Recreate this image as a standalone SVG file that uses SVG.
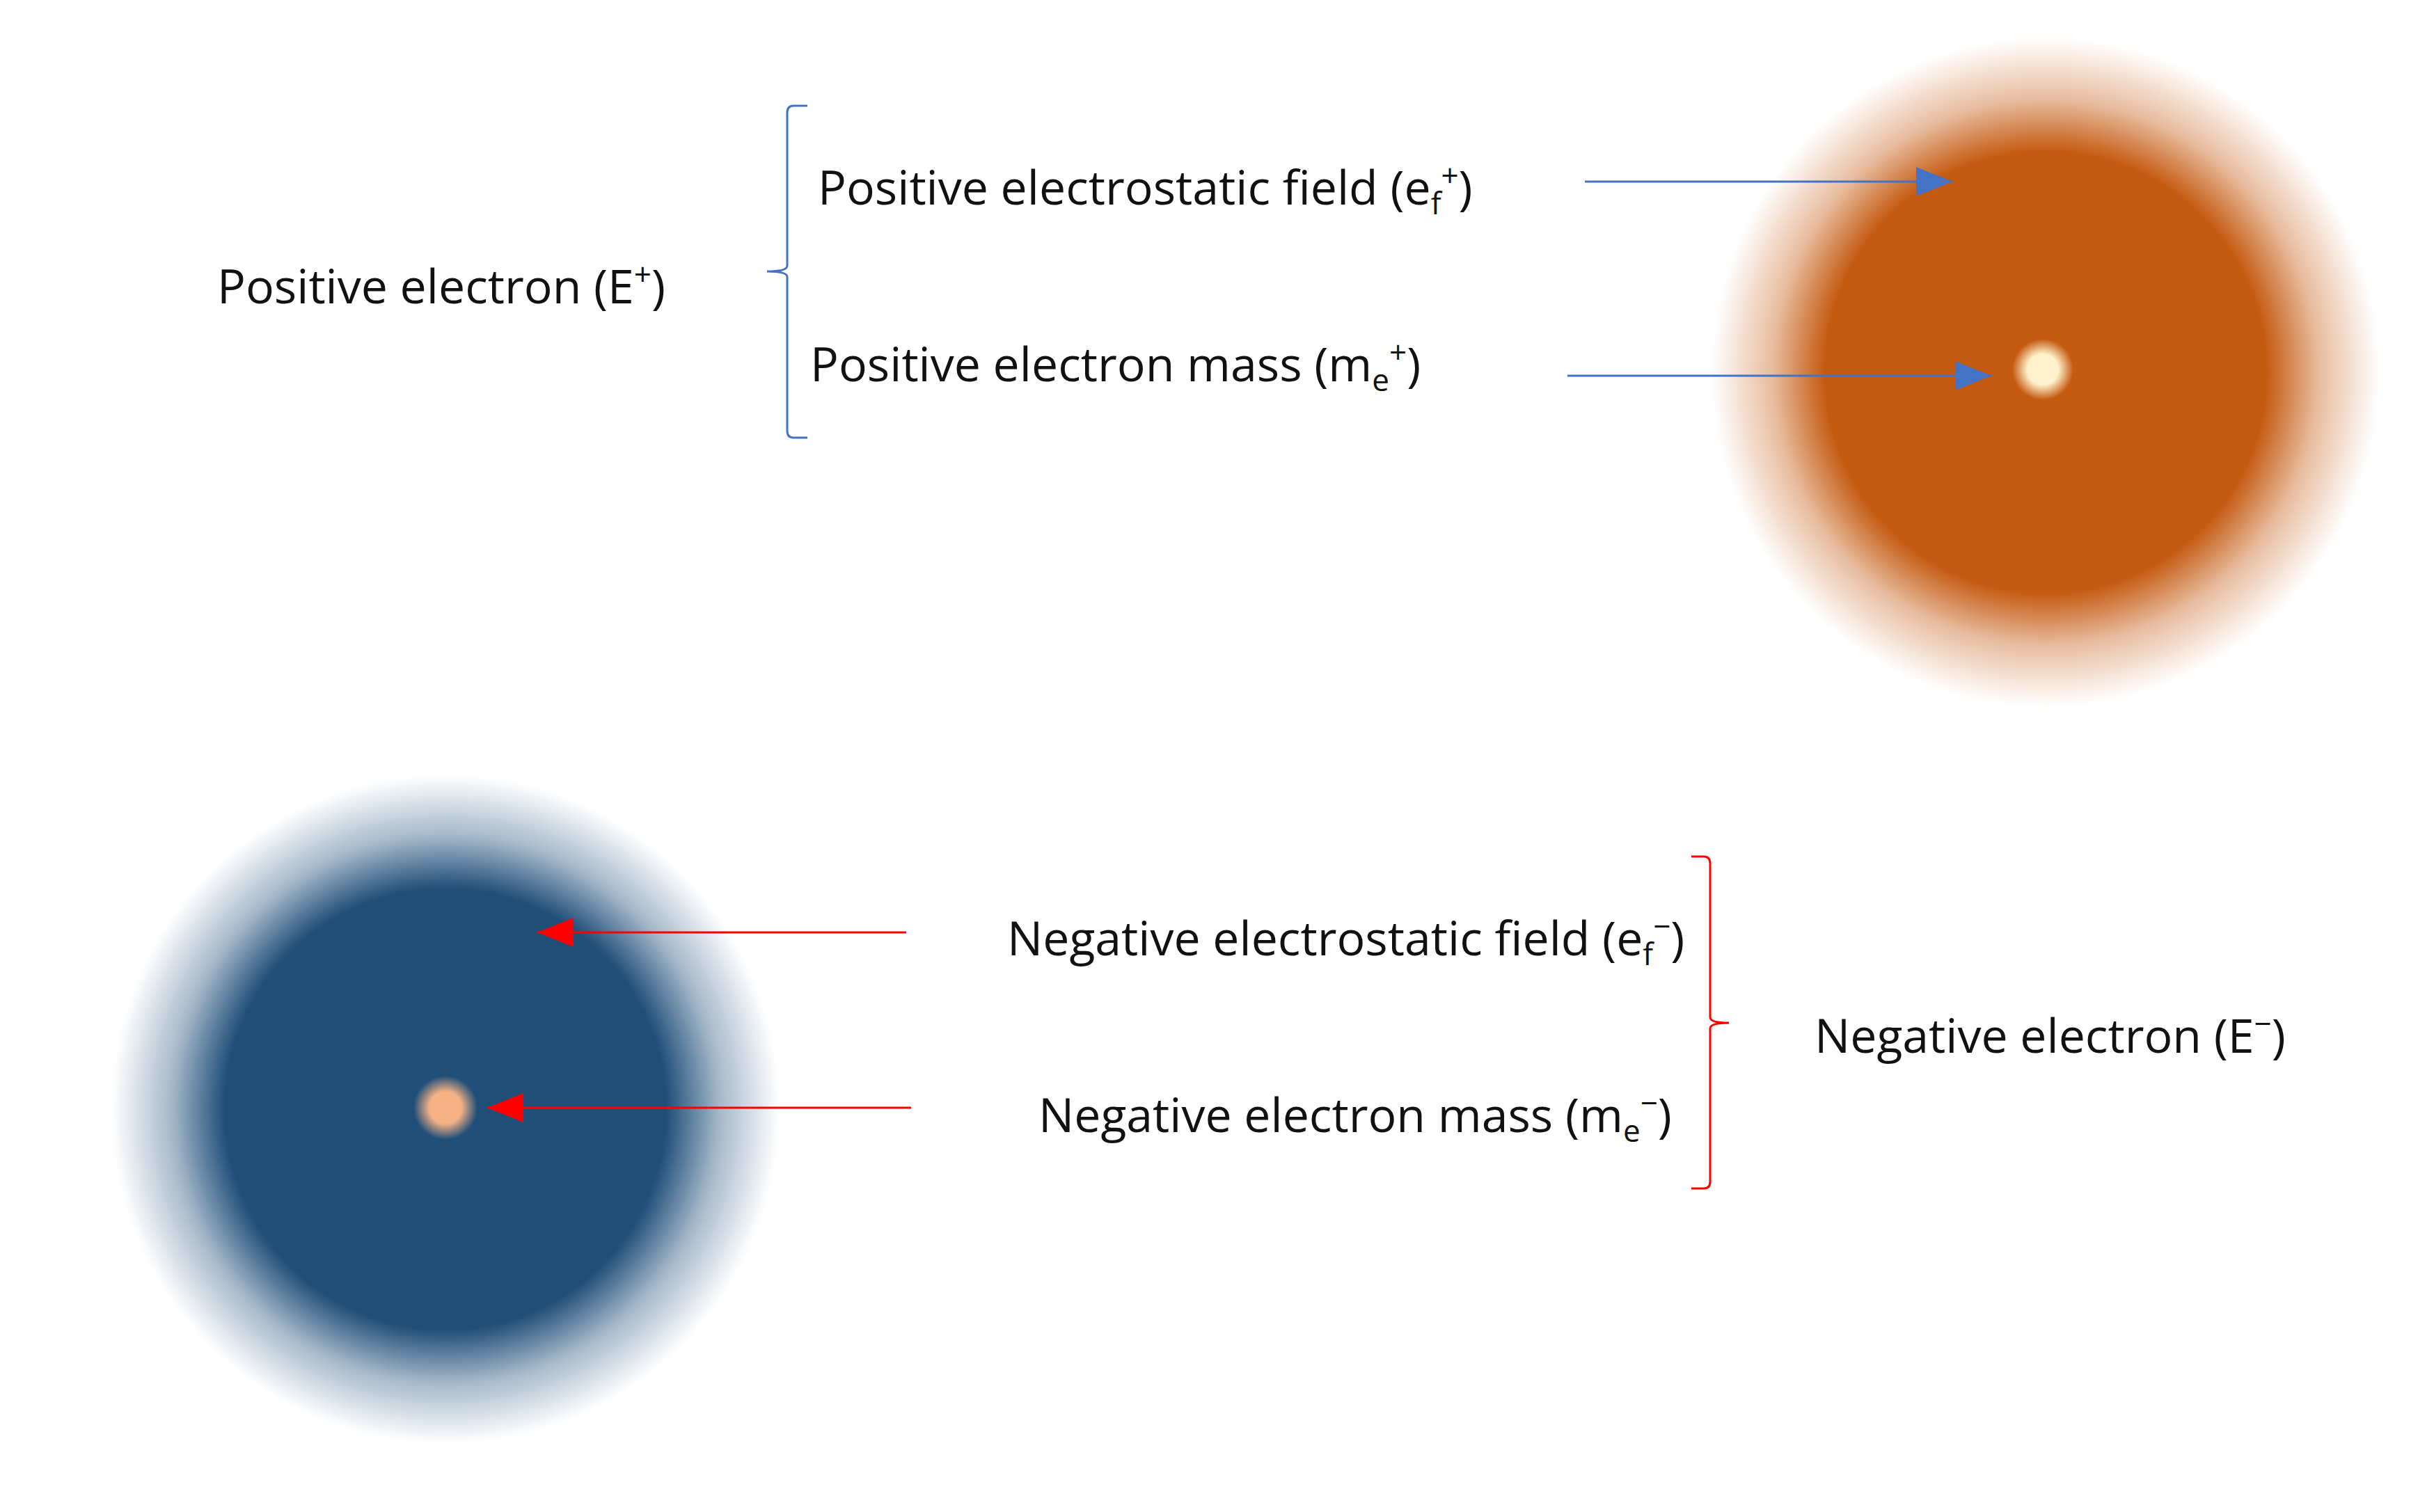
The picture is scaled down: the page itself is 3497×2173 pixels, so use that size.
<svg xmlns="http://www.w3.org/2000/svg" width="3497" height="2173" viewBox="0 0 3497 2173">
<style>
text{font-family:"Open Sans","Liberation Sans",sans-serif;font-size:68px;fill:#111}
.sub{font-size:44px}
.b{stroke:#4472C4;stroke-width:3;fill:none}
.r{stroke:#FF0000;stroke-width:3;fill:none}
</style>
<defs>
<radialGradient id="og"><stop offset="0" stop-color="#C55A11"/><stop offset="0.66" stop-color="#C55A11"/><stop offset="0.82" stop-color="#C55A11" stop-opacity="0.4"/><stop offset="1" stop-color="#C55A11" stop-opacity="0"/></radialGradient>
<radialGradient id="bg"><stop offset="0" stop-color="#1F4E79"/><stop offset="0.66" stop-color="#1F4E79"/><stop offset="0.82" stop-color="#1F4E79" stop-opacity="0.4"/><stop offset="1" stop-color="#1F4E79" stop-opacity="0"/></radialGradient>
<radialGradient id="wd"><stop offset="0.5" stop-color="#FFF2CC"/><stop offset="1" stop-color="#FFF2CC" stop-opacity="0"/></radialGradient>
<radialGradient id="pd"><stop offset="0.5" stop-color="#F4B183"/><stop offset="1" stop-color="#F4B183" stop-opacity="0"/></radialGradient>
<marker id="ab" viewBox="0 0 10 10" refX="10" refY="5" markerWidth="52" markerHeight="42" markerUnits="userSpaceOnUse" orient="auto" preserveAspectRatio="none"><path d="M0,0L10,5L0,10z" fill="#4472C4"/></marker>
<marker id="ar" viewBox="0 0 10 10" refX="10" refY="5" markerWidth="52" markerHeight="42" markerUnits="userSpaceOnUse" orient="auto" preserveAspectRatio="none"><path d="M0,0L10,5L0,10z" fill="#FF0000"/></marker>
</defs>
<rect width="3497" height="2173" fill="#fff"/>
<g id="positive-ball"><circle cx="2939" cy="535" r="480" fill="url(#og)"/><circle cx="2935" cy="531" r="44" fill="url(#wd)"/></g>
<g id="negative-ball"><circle cx="640" cy="1594" r="480" fill="url(#bg)"/><circle cx="640" cy="1592" r="46" fill="url(#pd)"/></g>
<g id="positive-electron"><text x="312" y="436">Positive electron (E<tspan class="sub" dy="-26">+</tspan><tspan dy="26">)</tspan></text></g>
<g id="positive-field"><text x="1175" y="294">Positive electrostatic field (e<tspan class="sub" dy="14">f</tspan><tspan class="sub" dy="-40">+</tspan><tspan dy="26">)</tspan></text></g>
<g id="positive-mass"><text x="1164" y="548">Positive electron mass (m<tspan class="sub" dy="14">e</tspan><tspan class="sub" dy="-40">+</tspan><tspan dy="26">)</tspan></text></g>
<g id="negative-field"><text x="1447" y="1373">Negative electrostatic field (e<tspan class="sub" dy="14">f</tspan><tspan class="sub" dy="-40">−</tspan><tspan dy="26">)</tspan></text></g>
<g id="negative-mass"><text x="1492" y="1627">Negative electron mass (m<tspan class="sub" dy="14">e</tspan><tspan class="sub" dy="-40">−</tspan><tspan dy="26">)</tspan></text></g>
<g id="negative-electron"><text x="2607" y="1513">Negative electron (E<tspan class="sub" dy="-26">−</tspan><tspan dy="26">)</tspan></text></g>
<g id="connectors">
<path class="b" d="M1160,152 L1140,152 Q1131,152 1131,162 L1131,382 Q1131,390 1102,390 Q1131,390 1131,398 L1131,619 Q1131,629 1140,629 L1160,629"/>
<path class="b" d="M2277,261 L2805,261" marker-end="url(#ab)" stroke-width="4"/>
<path class="b" d="M2252,540 L2861,540" marker-end="url(#ab)" stroke-width="4"/>
<path class="r" d="M2430,1231 L2448,1231 Q2457,1231 2457,1241 L2457,1462 Q2457,1470 2484,1470 Q2457,1470 2457,1478 L2457,1698 Q2457,1708 2448,1708 L2430,1708"/>
<path class="r" d="M1302,1340 L772,1340" marker-end="url(#ar)" stroke-width="4"/>
<path class="r" d="M1309,1592 L700,1592" marker-end="url(#ar)" stroke-width="4"/>
</g>
</svg>
